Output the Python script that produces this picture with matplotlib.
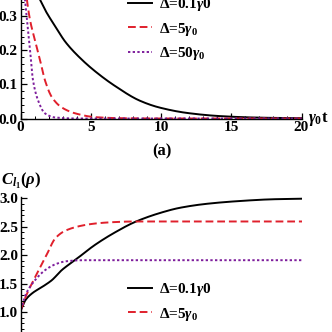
import numpy as np
import matplotlib
matplotlib.use('Agg')
import matplotlib.pyplot as plt
from matplotlib.ticker import MultipleLocator

BLACK = '#000000'
RED = '#E0202C'
PURPLE = '#7E1E9C'

plt.rcParams['font.family'] = ['Liberation Serif', 'DejaVu Serif']
plt.rcParams['font.weight'] = 'bold'
plt.rcParams['mathtext.fontset'] = 'custom'
plt.rcParams['mathtext.rm'] = 'Liberation Serif:bold'
plt.rcParams['mathtext.it'] = 'Liberation Serif:italic:bold'
plt.rcParams['mathtext.bf'] = 'Liberation Serif:bold'

labels = ['Δ=0.1$\\gamma$0', 'Δ=5$\\gamma_0$', 'Δ=50$\\gamma_0$']

# panel (a): decay vs gamma0 t
t_black = [0, 1.0, 1.4, 1.75, 2.5, 3.2, 4.4, 5.5, 6.7, 8.5, 9.9, 11.9, 14.2, 16.5, 18.5, 20]
v_black = [0.47, 0.38, 0.347, 0.318, 0.268, 0.224, 0.171, 0.132, 0.096, 0.052, 0.032, 0.016, 0.007, 0.003, 0.0015, 0.001]
t_red = [0, 0.46, 0.68, 1.03, 1.39, 1.74, 2.24, 2.95, 3.9, 5.3, 7, 10, 15, 20]
v_red = [0.55, 0.347, 0.288, 0.229, 0.171, 0.112, 0.062, 0.032, 0.015, 0.004, 0.001, 0, 0, 0]
t_pur = [0, 0.32, 0.46, 0.68, 0.89, 1.25, 1.74, 2.46, 4, 10, 20]
v_pur = [0.45, 0.347, 0.288, 0.2, 0.112, 0.053, 0.015, 0.003, 0, 0, 0]

# panel (b): C_l1(rho)
tb_black = [0, 0.32, 0.8, 1.5, 1.93, 2.2, 2.92, 3.84, 5.27, 6.7, 8.1, 9.9, 11.3, 13.2, 15.6, 17.9, 20]
cb_black = [1.04, 1.21, 1.33, 1.44, 1.51, 1.56, 1.74, 1.91, 2.18, 2.40, 2.58, 2.74, 2.83, 2.90, 2.95, 2.98, 2.99]
tb_red = [0, 0.32, 1.0, 1.74, 2.46, 3.17, 4.38, 5.5, 6.7, 8, 10, 20]
cb_red = [1.04, 1.26, 1.61, 1.96, 2.30, 2.43, 2.52, 2.56, 2.58, 2.59, 2.59, 2.59]
tb_pur = [0, 0.32, 1.0, 1.74, 2.46, 3.17, 4.38, 6, 10, 20]
cb_pur = [1.04, 1.30, 1.56, 1.74, 1.84, 1.89, 1.91, 1.91, 1.91, 1.91]


# monotone cubic (Fritsch-Carlson) so the read points join without kinks
def smooth(x, y, n=500):
    x = np.asarray(x, float)
    y = np.asarray(y, float)
    h = np.diff(x)
    d = np.diff(y) / h
    m = np.zeros_like(y)
    m[0], m[-1] = d[0], d[-1]
    for i in range(1, len(x) - 1):
        if d[i - 1] * d[i] > 0:
            w1 = 2 * h[i] + h[i - 1]
            w2 = h[i] + 2 * h[i - 1]
            m[i] = (w1 + w2) / (w1 / d[i - 1] + w2 / d[i])
    xs = np.linspace(x[0], x[-1], n)
    k = np.clip(np.searchsorted(x, xs) - 1, 0, len(x) - 2)
    s = (xs - x[k]) / h[k]
    h00 = 2 * s**3 - 3 * s**2 + 1
    h10 = s**3 - 2 * s**2 + s
    h01 = -2 * s**3 + 3 * s**2
    h11 = s**3 - s**2
    ys = h00 * y[k] + h10 * h[k] * m[k] + h01 * y[k + 1] + h11 * h[k] * m[k + 1]
    return xs, ys


def style_axes(ax):
    ax.spines['top'].set_visible(False)
    ax.spines['right'].set_visible(False)
    ax.tick_params(which='both', direction='in', labelsize=11, pad=2)
    ax.tick_params(which='major', length=4, width=0.9)
    ax.tick_params(which='minor', length=2, width=0.7)
    for s in ax.spines.values():
        s.set_linewidth(1.0)


leg_kw = dict(frameon=False, fontsize=11, handlelength=1.6, handletextpad=0.45,
              labelspacing=0.5, borderpad=0, borderaxespad=0)

fig = plt.figure(figsize=(3.32, 3.32), dpi=100)

# top panel
ax1 = fig.add_axes([20.5 / 332, 1 - 118.5 / 332, 281 / 332, 118.5 / 332])
ax1.plot(*smooth(t_black, v_black), color=BLACK, lw=1.4, label=labels[0])
ax1.plot(*smooth(t_red, v_red), color=RED, lw=1.4, ls=(0, (4, 2)), label=labels[1])
ax1.plot(*smooth(t_pur, v_pur), color=PURPLE, lw=1.4, ls=(0, (1.2, 1.2)), label=labels[2])
ax1.set_xlim(0, 20)
ax1.set_ylim(0, 0.347)
ax1.xaxis.set_major_locator(MultipleLocator(5))
ax1.xaxis.set_minor_locator(MultipleLocator(1))
ax1.yaxis.set_minor_locator(MultipleLocator(0.02))
ax1.set_yticks([0, 0.1, 0.2, 0.3])
ax1.set_yticklabels(['0.0', '0.1', '0.2', '0.3'])
style_axes(ax1)
ax1.legend(loc='upper left', bbox_to_anchor=(128 / 332, 1 + 4 / 332),
           bbox_transform=fig.transFigure, **leg_kw)
fig.text(308 / 332, 1 - 119 / 332, '$\\gamma_0$t', fontsize=12, ha='left', va='center')
fig.text(162 / 332, 1 - 151 / 332, '(a)', fontsize=12, ha='center', va='center')

# bottom panel
ax2 = fig.add_axes([21 / 332, 0, 281 / 332, 135 / 332])
ax2.plot(*smooth(tb_black, cb_black), color=BLACK, lw=1.4, label=labels[0])
ax2.plot(*smooth(tb_red, cb_red), color=RED, lw=1.4, ls=(0, (4, 2)), label=labels[1])
ax2.plot(*smooth(tb_pur, cb_pur), color=PURPLE, lw=1.4, ls=(0, (1.2, 1.2)), label=labels[2])
ax2.set_xlim(0, 20)
ax2.set_ylim(1 - 20 / 57, 3.02)
ax2.yaxis.set_minor_locator(MultipleLocator(0.1))
ax2.set_yticks([1.0, 1.5, 2.0, 2.5, 3.0])
ax2.set_yticklabels(['1.0', '1.5', '2.0', '2.5', '3.0'])
style_axes(ax2)
ax2.spines['bottom'].set_visible(False)
ax2.set_xticks([])
ax2.legend(loc='upper left', bbox_to_anchor=(128 / 332, 1 - 281 / 332),
           bbox_transform=fig.transFigure, **leg_kw)
fig.text(1 / 332, 1 - 181 / 332, '$C_{l_1}(\\rho)$', fontsize=12, ha='left', va='center')

fig.savefig('out.png', dpi=100)
